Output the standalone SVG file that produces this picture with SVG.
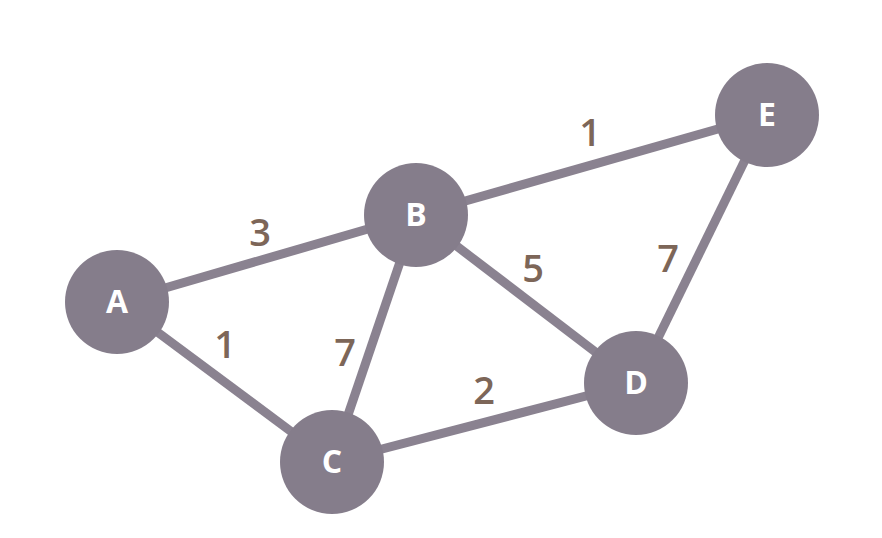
<svg xmlns="http://www.w3.org/2000/svg" width="882" height="538" viewBox="0 0 882 538">
<style>
.e{stroke:#8a8290;stroke-width:9;fill:none}
.n{fill:#857d8b}
.t{fill:#fff;font-family:"Open Sans","DejaVu Sans",sans-serif;font-weight:bold;font-size:32px;text-anchor:middle}
.w{fill:#7d6658;font-family:"Open Sans","DejaVu Sans",sans-serif;font-weight:600;font-size:38px;text-anchor:middle}
</style>
<rect width="882" height="538" fill="#fff"/>
<g id="edges">
<line class="e" x1="117" y1="302" x2="416" y2="215"/>
<line class="e" x1="117" y1="302" x2="332" y2="462"/>
<line class="e" x1="416" y1="215" x2="767" y2="115"/>
<line class="e" x1="416" y1="215" x2="332" y2="462"/>
<line class="e" x1="416" y1="215" x2="636" y2="383"/>
<line class="e" x1="332" y1="462" x2="636" y2="383"/>
<line class="e" x1="636" y1="383" x2="767" y2="115"/>
<text class="w" x="260" y="246">3</text>
<text class="w" x="590" y="146">1</text>
<text class="w" x="533" y="282">5</text>
<text class="w" x="668" y="272">7</text>
<text class="w" x="225" y="358">1</text>
<text class="w" x="345" y="366">7</text>
<text class="w" x="484" y="404">2</text>
</g>
<g id="A"><circle class="n" cx="117" cy="302" r="52"/><text class="t" x="117" y="313">A</text></g>
<g id="B"><circle class="n" cx="416" cy="215" r="52"/><text class="t" x="416" y="226">B</text></g>
<g id="C"><circle class="n" cx="332" cy="462" r="52"/><text class="t" x="332" y="473">C</text></g>
<g id="D"><circle class="n" cx="636" cy="383" r="52"/><text class="t" x="636" y="394">D</text></g>
<g id="E"><circle class="n" cx="767" cy="115" r="52"/><text class="t" x="767" y="126">E</text></g>
</svg>
